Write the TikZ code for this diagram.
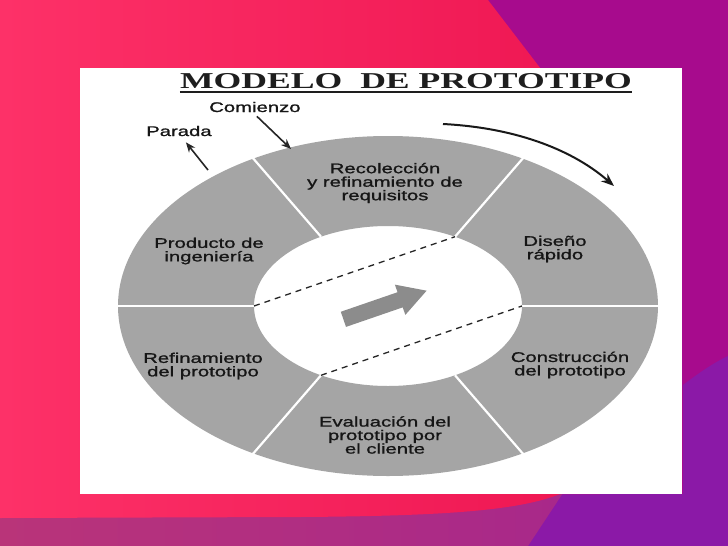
\documentclass[tikz,border=0pt]{standalone}
\usepackage{fontspec}
\setmainfont{Liberation Sans}
\newfontfamily\labfont[FakeStretch=1.45, FakeBold=1.2]{Liberation Sans}
\newfontfamily\titfont[FakeStretch=1.57]{Liberation Serif}
\usetikzlibrary{arrows.meta}
\definecolor{pinkL}{HTML}{FD3168}
\definecolor{pinkR}{HTML}{EE1652}
\definecolor{magbg}{HTML}{A70B8D}
\definecolor{violetbg}{HTML}{8B19A7}
\definecolor{mauveL}{HTML}{B93479}
\definecolor{mauveR}{HTML}{A8288A}
\definecolor{ringgray}{HTML}{A5A5A5}
\definecolor{blockgray}{HTML}{8C8C8C}
\definecolor{labcol}{HTML}{161616}
\definecolor{titcol}{HTML}{1E1E1E}
\begin{document}
\begin{tikzpicture}[x=1pt,y=-1pt,
  lab/.style={font=\labfont\fontsize{14}{13.5}\selectfont, align=center, text=labcol, inner sep=0pt},
  toplab/.style={font=\labfont\fontsize{14}{14}\selectfont, text=labcol, inner sep=0pt},
  divider/.style={white, line width=2.2pt},
  dashline/.style={black!85, line width=1.3pt, dash pattern=on 6pt off 5pt},
  arr/.style={black!85, line width=1.6pt, -{Stealth[length=10pt,width=8pt]}},
  bigarr/.style={black!90, line width=2pt, -{Stealth[length=13pt,width=10pt]}}]
\useasboundingbox (0,0) rectangle (728,546);
% background
\fill[magbg] (0,0) rectangle (728,546);
\fill[violetbg] (683,385) .. controls (700,372) and (715,362) .. (728,356) -- (728,546) -- (528,546) -- (560,494) -- (683,494) -- cycle;
\shade[left color=mauveL, right color=mauveR] (0,505) -- (565,490) -- (528,546) -- (0,546) -- cycle;
\shade[left color=pinkL, right color=pinkR] (0,0) -- (488,0) -- (600,146) -- (600,494) -- (560,494) .. controls (520,510) and (450,516) .. (300,517) -- (0,518) -- cycle;
% white card
\fill[white] (80,68) rectangle (682,494);
% title
\node[font=\titfont\bfseries\fontsize{22.7}{24}\selectfont, text=titcol, anchor=base, inner sep=0pt] (title) at (406,88) {MODELO\ \ DE PROTOTIPO};
\draw[titcol, line width=2.2pt] ([yshift=-4pt]title.base west) -- ([yshift=-4pt]title.base east);
% ring
\fill[ringgray, even odd rule] (388,306) ellipse [x radius=270pt, y radius=170pt]
  (388,306) ellipse [x radius=134pt, y radius=80pt];
\foreach \a in {0,60,120,180,240,300} {
  \coordinate (in\a) at ({388+134*cos(\a)},{306-80*sin(\a)});
  \coordinate (out\a) at ({388+272*cos(\a)},{306-172*sin(\a)});
  \draw[divider] (in\a) -- (out\a);
}
% dashed lines
\draw[dashline] (in180) -- (in60);
\draw[dashline] (in240) -- (in0);
% block arrow
\begin{scope}[shift={(385,305)}, rotate=19]
  \fill[blockgray] (-44,-8) -- (16,-8) -- (16,-16) -- (44,0) -- (16,16) -- (16,8) -- (-44,8) -- cycle;
\end{scope}
% sector labels
\node[lab] (rec) at (385,183) {Recolección\\y refinamiento de\\requisitos};
\node[lab] (dis) at (555,249) {Diseño\\rápido};
\node[lab] (con) at (570,365) {Construcción\\del prototipo};
\node[lab] (eva) at (385,435) {Evaluación del\\prototipo por\\el cliente};
\node[lab] (ref) at (203,366) {Refinamiento\\del prototipo};
\node[lab] (pro) at (209,251) {Producto de\\ingeniería};
% start / stop
\node[toplab, anchor=west] (com) at (209,107) {Comienzo};
\node[toplab, anchor=west] (par) at (146,131) {Parada};
\coordinate (comtip) at (291,149);
\coordinate (partail) at (208,170);
\draw[arr] ([shift={(2pt,-4pt)}]com.south) -- (comtip);
\draw[arr] (partail) -- ([shift={(7pt,-6pt)}]par.south);
% cycle arrow
\coordinate (ca) at (443,124);
\coordinate (cb) at (614,186);
\draw[bigarr] (ca) .. controls (520,128) and (575,152) .. (cb);
\end{tikzpicture}
\end{document}
